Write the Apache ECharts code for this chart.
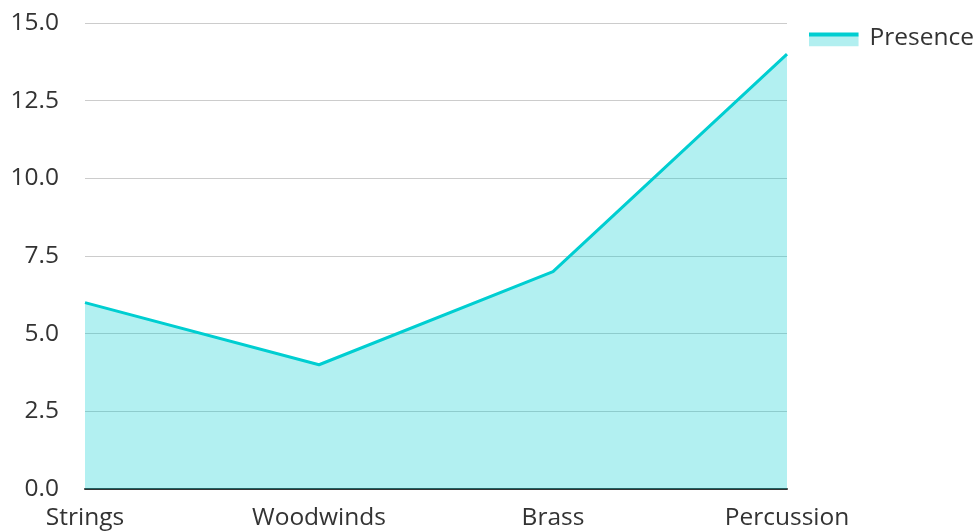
<!DOCTYPE html>
<html><head><meta charset="utf-8">
<script src="https://cdn.jsdelivr.net/npm/echarts@6/dist/echarts.min.js"></script>
<style>html,body{margin:0;padding:0;background:#fff}#c{width:979px;height:531px}</style>
</head><body><div id="c"></div>
<script>
const categories = ['Strings', 'Woodwinds', 'Brass', 'Percussion'];
const presence = [6, 4, 7, 14];
const seriesName = 'Presence';

const chart = echarts.init(document.getElementById('c'), null, {renderer: 'canvas'});
const font = '"Open Sans", "Noto Sans", sans-serif';
const iconSvg = '<svg xmlns="http://www.w3.org/2000/svg" width="56" height="16" viewBox="0 0 56 16">' +
  '<rect x="0" y="5" width="50" height="11" fill="#b2eff0"/>' +
  '<rect x="0" y="2" width="50" height="4" fill="#00CED1"/></svg>';
const iconUrl = 'image://data:image/svg+xml;charset=utf-8,' + encodeURIComponent(iconSvg);
chart.setOption({
  animation: false,
  textStyle: {fontFamily: font},
  legend: {
    data: [{name: seriesName, icon: iconUrl}], right: 0, top: 21, itemWidth: 56, itemHeight: 16,
    textStyle: {fontSize: 24.5, color: '#333', fontFamily: font}
  },
  grid: {left: 85, right: 192, top: 23, bottom: 41},
  xAxis: {
    type: 'category', data: categories, boundaryGap: false,
    axisLine: {lineStyle: {color: '#333', width: 2}},
    axisTick: {show: false},
    axisLabel: {fontSize: 24.5, color: '#333', margin: 17, fontFamily: font}
  },
  yAxis: {
    type: 'value', min: 0, max: 15, interval: 2.5,
    axisLine: {show: false}, axisTick: {show: false},
    splitLine: {lineStyle: {color: '#ccc'}},
    axisLabel: {fontSize: 24.5, color: '#333', margin: 26, formatter: v => v.toFixed(1), fontFamily: font}
  },
  series: [{
    name: seriesName, type: 'line', data: presence, symbol: 'none',
    lineStyle: {color: '#00CED1', width: 3},
    itemStyle: {color: '#00CED1'},
    areaStyle: {color: '#00CED1', opacity: 0.3}
  }]
});
</script></body></html>
